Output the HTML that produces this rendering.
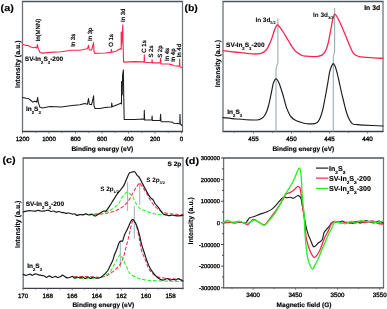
<!DOCTYPE html>
<html><head><meta charset="utf-8"><style>
html,body{margin:0;padding:0;background:#fff;overflow:hidden;}
svg{display:block;font-family:"Liberation Sans",sans-serif;text-rendering:geometricPrecision;will-change:transform;}
</style></head><body>
<svg width="387" height="309" viewBox="0 0 387 309">
<rect width="387" height="309" fill="#fff"/>
<line x1="21.9" y1="1.5" x2="183.1" y2="1.5" stroke="#4d555c" stroke-width="1.3"/>
<line x1="182.5" y1="1.5" x2="182.5" y2="131.5" stroke="#6a7278" stroke-width="1.25"/>
<line x1="21.9" y1="131.5" x2="183.1" y2="131.5" stroke="#3a4046" stroke-width="1.3"/>
<line x1="22.5" y1="1.5" x2="22.5" y2="131.5" stroke="#6a7278" stroke-width="1.3"/>
<line x1="22.5" y1="131.5" x2="22.5" y2="133.5" stroke="#555" stroke-width="0.8"/>
<line x1="35.75" y1="131.5" x2="35.75" y2="132.8" stroke="#555" stroke-width="0.8"/>
<line x1="49.0" y1="131.5" x2="49.0" y2="133.5" stroke="#555" stroke-width="0.8"/>
<line x1="62.25" y1="131.5" x2="62.25" y2="132.8" stroke="#555" stroke-width="0.8"/>
<line x1="75.5" y1="131.5" x2="75.5" y2="133.5" stroke="#555" stroke-width="0.8"/>
<line x1="88.75" y1="131.5" x2="88.75" y2="132.8" stroke="#555" stroke-width="0.8"/>
<line x1="102.0" y1="131.5" x2="102.0" y2="133.5" stroke="#555" stroke-width="0.8"/>
<line x1="115.25" y1="131.5" x2="115.25" y2="132.8" stroke="#555" stroke-width="0.8"/>
<line x1="128.5" y1="131.5" x2="128.5" y2="133.5" stroke="#555" stroke-width="0.8"/>
<line x1="141.75" y1="131.5" x2="141.75" y2="132.8" stroke="#555" stroke-width="0.8"/>
<line x1="155.0" y1="131.5" x2="155.0" y2="133.5" stroke="#555" stroke-width="0.8"/>
<line x1="168.25" y1="131.5" x2="168.25" y2="132.8" stroke="#555" stroke-width="0.8"/>
<line x1="181.5" y1="131.5" x2="181.5" y2="133.5" stroke="#555" stroke-width="0.8"/>
<text x="22.5" y="140.6" font-size="6.1" font-weight="normal" text-anchor="middle" stroke="#000" stroke-width="0.3">1200</text>
<text x="49.0" y="140.6" font-size="6.1" font-weight="normal" text-anchor="middle" stroke="#000" stroke-width="0.3">1000</text>
<text x="75.5" y="140.6" font-size="6.1" font-weight="normal" text-anchor="middle" stroke="#000" stroke-width="0.3">800</text>
<text x="102.0" y="140.6" font-size="6.1" font-weight="normal" text-anchor="middle" stroke="#000" stroke-width="0.3">600</text>
<text x="128.5" y="140.6" font-size="6.1" font-weight="normal" text-anchor="middle" stroke="#000" stroke-width="0.3">400</text>
<text x="155.0" y="140.6" font-size="6.1" font-weight="normal" text-anchor="middle" stroke="#000" stroke-width="0.3">200</text>
<text x="181.5" y="140.6" font-size="6.1" font-weight="normal" text-anchor="middle" stroke="#000" stroke-width="0.3">0</text>
<text x="102.3" y="150.6" font-size="6.55" font-weight="bold" text-anchor="middle" stroke="#000" stroke-width="0.15">Binding energy (eV)</text>
<text transform="translate(19.5,64.2) rotate(-90)" font-size="7.0" font-weight="bold" text-anchor="middle" stroke="#000" stroke-width="0.12">Intensity (a.u.)</text>
<text transform="translate(0.6,10.7) scale(1.15,1)" font-size="9.4" font-weight="bold" text-anchor="start" stroke="#000" stroke-width="0.15">(a)</text>
<line x1="222.4" y1="1.5" x2="383.6" y2="1.5" stroke="#4d555c" stroke-width="1.3"/>
<line x1="383" y1="1.5" x2="383" y2="131.5" stroke="#6a7278" stroke-width="1.25"/>
<line x1="222.4" y1="131.5" x2="383.6" y2="131.5" stroke="#3a4046" stroke-width="1.3"/>
<line x1="223" y1="1.5" x2="223" y2="131.5" stroke="#6a7278" stroke-width="1.3"/>
<line x1="234.365" y1="131.5" x2="234.365" y2="132.8" stroke="#555" stroke-width="0.8"/>
<line x1="253.4" y1="131.5" x2="253.4" y2="133.5" stroke="#555" stroke-width="0.8"/>
<line x1="272.435" y1="131.5" x2="272.435" y2="132.8" stroke="#555" stroke-width="0.8"/>
<line x1="291.47" y1="131.5" x2="291.47" y2="133.5" stroke="#555" stroke-width="0.8"/>
<line x1="310.505" y1="131.5" x2="310.505" y2="132.8" stroke="#555" stroke-width="0.8"/>
<line x1="329.54" y1="131.5" x2="329.54" y2="133.5" stroke="#555" stroke-width="0.8"/>
<line x1="348.575" y1="131.5" x2="348.575" y2="132.8" stroke="#555" stroke-width="0.8"/>
<line x1="367.61" y1="131.5" x2="367.61" y2="133.5" stroke="#555" stroke-width="0.8"/>
<text x="253.4" y="140.7" font-size="6.3" font-weight="normal" text-anchor="middle" stroke="#000" stroke-width="0.3">455</text>
<text x="291.47" y="140.7" font-size="6.3" font-weight="normal" text-anchor="middle" stroke="#000" stroke-width="0.3">450</text>
<text x="329.54" y="140.7" font-size="6.3" font-weight="normal" text-anchor="middle" stroke="#000" stroke-width="0.3">445</text>
<text x="367.61" y="140.7" font-size="6.3" font-weight="normal" text-anchor="middle" stroke="#000" stroke-width="0.3">440</text>
<text x="303.3" y="150.6" font-size="6.55" font-weight="bold" text-anchor="middle" stroke="#000" stroke-width="0.15">Binding energy (eV)</text>
<text transform="translate(220,63.6) rotate(-90)" font-size="7.0" font-weight="bold" text-anchor="middle" stroke="#000" stroke-width="0.12">Intensity (a.u.)</text>
<text transform="translate(184.4,10.7) scale(1.12,1)" font-size="9.4" font-weight="bold" text-anchor="start" stroke="#000" stroke-width="0.15">(b)</text>
<line x1="22.599999999999998" y1="158" x2="183.6" y2="158" stroke="#4d555c" stroke-width="1.3"/>
<line x1="183" y1="158" x2="183" y2="288.3" stroke="#6a7278" stroke-width="1.25"/>
<line x1="22.599999999999998" y1="288.3" x2="183.6" y2="288.3" stroke="#3a4046" stroke-width="1.3"/>
<line x1="23.2" y1="158" x2="23.2" y2="288.3" stroke="#6a7278" stroke-width="1.3"/>
<line x1="23.1" y1="288.3" x2="23.1" y2="290.3" stroke="#555" stroke-width="0.8"/>
<line x1="35.39" y1="288.3" x2="35.39" y2="289.6" stroke="#555" stroke-width="0.8"/>
<line x1="47.68" y1="288.3" x2="47.68" y2="290.3" stroke="#555" stroke-width="0.8"/>
<line x1="59.97" y1="288.3" x2="59.97" y2="289.6" stroke="#555" stroke-width="0.8"/>
<line x1="72.25999999999999" y1="288.3" x2="72.25999999999999" y2="290.3" stroke="#555" stroke-width="0.8"/>
<line x1="84.55" y1="288.3" x2="84.55" y2="289.6" stroke="#555" stroke-width="0.8"/>
<line x1="96.84" y1="288.3" x2="96.84" y2="290.3" stroke="#555" stroke-width="0.8"/>
<line x1="109.13" y1="288.3" x2="109.13" y2="289.6" stroke="#555" stroke-width="0.8"/>
<line x1="121.41999999999999" y1="288.3" x2="121.41999999999999" y2="290.3" stroke="#555" stroke-width="0.8"/>
<line x1="133.70999999999998" y1="288.3" x2="133.70999999999998" y2="289.6" stroke="#555" stroke-width="0.8"/>
<line x1="146.0" y1="288.3" x2="146.0" y2="290.3" stroke="#555" stroke-width="0.8"/>
<line x1="158.29" y1="288.3" x2="158.29" y2="289.6" stroke="#555" stroke-width="0.8"/>
<line x1="170.57999999999998" y1="288.3" x2="170.57999999999998" y2="290.3" stroke="#555" stroke-width="0.8"/>
<line x1="182.86999999999998" y1="288.3" x2="182.86999999999998" y2="289.6" stroke="#555" stroke-width="0.8"/>
<text x="23.1" y="297.5" font-size="6.2" font-weight="normal" text-anchor="middle" stroke="#000" stroke-width="0.3">170</text>
<text x="47.68" y="297.5" font-size="6.2" font-weight="normal" text-anchor="middle" stroke="#000" stroke-width="0.3">168</text>
<text x="72.25999999999999" y="297.5" font-size="6.2" font-weight="normal" text-anchor="middle" stroke="#000" stroke-width="0.3">166</text>
<text x="96.84" y="297.5" font-size="6.2" font-weight="normal" text-anchor="middle" stroke="#000" stroke-width="0.3">164</text>
<text x="121.41999999999999" y="297.5" font-size="6.2" font-weight="normal" text-anchor="middle" stroke="#000" stroke-width="0.3">162</text>
<text x="146.0" y="297.5" font-size="6.2" font-weight="normal" text-anchor="middle" stroke="#000" stroke-width="0.3">160</text>
<text x="170.57999999999998" y="297.5" font-size="6.2" font-weight="normal" text-anchor="middle" stroke="#000" stroke-width="0.3">158</text>
<text x="103.3" y="307" font-size="6.55" font-weight="bold" text-anchor="middle" stroke="#000" stroke-width="0.15">Binding energy (eV)</text>
<text transform="translate(20,224.3) rotate(-90)" font-size="7.0" font-weight="bold" text-anchor="middle" stroke="#000" stroke-width="0.12">Intensity (a.u.)</text>
<text transform="translate(2.4,163.3) scale(1.15,1)" font-size="9.4" font-weight="bold" text-anchor="start" stroke="#000" stroke-width="0.15">(c)</text>
<line x1="223.0" y1="158" x2="384.1" y2="158" stroke="#4d555c" stroke-width="1.3"/>
<line x1="383.5" y1="158" x2="383.5" y2="287.8" stroke="#6a7278" stroke-width="1.25"/>
<line x1="223.0" y1="287.8" x2="384.1" y2="287.8" stroke="#3a4046" stroke-width="1.3"/>
<line x1="223.6" y1="158" x2="223.6" y2="287.8" stroke="#6a7278" stroke-width="1.3"/>
<line x1="232.0" y1="287.8" x2="232.0" y2="289.1" stroke="#555" stroke-width="0.8"/>
<line x1="253.1" y1="287.8" x2="253.1" y2="289.8" stroke="#555" stroke-width="0.8"/>
<line x1="274.2" y1="287.8" x2="274.2" y2="289.1" stroke="#555" stroke-width="0.8"/>
<line x1="295.3" y1="287.8" x2="295.3" y2="289.8" stroke="#555" stroke-width="0.8"/>
<line x1="316.4" y1="287.8" x2="316.4" y2="289.1" stroke="#555" stroke-width="0.8"/>
<line x1="337.5" y1="287.8" x2="337.5" y2="289.8" stroke="#555" stroke-width="0.8"/>
<line x1="358.6" y1="287.8" x2="358.6" y2="289.1" stroke="#555" stroke-width="0.8"/>
<line x1="379.70000000000005" y1="287.8" x2="379.70000000000005" y2="289.8" stroke="#555" stroke-width="0.8"/>
<text x="253.1" y="297.3" font-size="6.2" font-weight="normal" text-anchor="middle" stroke="#000" stroke-width="0.3">3400</text>
<text x="295.3" y="297.3" font-size="6.2" font-weight="normal" text-anchor="middle" stroke="#000" stroke-width="0.3">3450</text>
<text x="337.5" y="297.3" font-size="6.2" font-weight="normal" text-anchor="middle" stroke="#000" stroke-width="0.3">3500</text>
<text x="379.7" y="297.3" font-size="6.2" font-weight="normal" text-anchor="middle" stroke="#000" stroke-width="0.3">3550</text>
<text x="304" y="307" font-size="6.55" font-weight="bold" text-anchor="middle" stroke="#000" stroke-width="0.15">Magnetic field (G)</text>
<line x1="223.6" y1="158.0" x2="221" y2="158.0" stroke="#333" stroke-width="0.9"/>
<line x1="223.6" y1="168.815" x2="222" y2="168.815" stroke="#333" stroke-width="0.9"/>
<line x1="223.6" y1="179.63" x2="221" y2="179.63" stroke="#333" stroke-width="0.9"/>
<line x1="223.6" y1="190.445" x2="222" y2="190.445" stroke="#333" stroke-width="0.9"/>
<line x1="223.6" y1="201.26" x2="221" y2="201.26" stroke="#333" stroke-width="0.9"/>
<line x1="223.6" y1="212.075" x2="222" y2="212.075" stroke="#333" stroke-width="0.9"/>
<line x1="223.6" y1="222.89" x2="221" y2="222.89" stroke="#333" stroke-width="0.9"/>
<line x1="223.6" y1="233.70499999999998" x2="222" y2="233.70499999999998" stroke="#333" stroke-width="0.9"/>
<line x1="223.6" y1="244.51999999999998" x2="221" y2="244.51999999999998" stroke="#333" stroke-width="0.9"/>
<line x1="223.6" y1="255.33499999999998" x2="222" y2="255.33499999999998" stroke="#333" stroke-width="0.9"/>
<line x1="223.6" y1="266.15" x2="221" y2="266.15" stroke="#333" stroke-width="0.9"/>
<line x1="223.6" y1="276.965" x2="222" y2="276.965" stroke="#333" stroke-width="0.9"/>
<line x1="223.6" y1="287.78" x2="221" y2="287.78" stroke="#333" stroke-width="0.9"/>
<text x="219.8" y="160.1" font-size="5.7" font-weight="normal" text-anchor="end" stroke="#000" stroke-width="0.3">300000</text>
<text x="219.8" y="181.73" font-size="5.7" font-weight="normal" text-anchor="end" stroke="#000" stroke-width="0.3">200000</text>
<text x="219.8" y="203.35999999999999" font-size="5.7" font-weight="normal" text-anchor="end" stroke="#000" stroke-width="0.3">100000</text>
<text x="219.8" y="224.98999999999998" font-size="5.7" font-weight="normal" text-anchor="end" stroke="#000" stroke-width="0.3">0</text>
<text x="219.8" y="246.61999999999998" font-size="5.7" font-weight="normal" text-anchor="end" stroke="#000" stroke-width="0.3">-100000</text>
<text x="219.8" y="268.25" font-size="5.7" font-weight="normal" text-anchor="end" stroke="#000" stroke-width="0.3">-200000</text>
<text x="219.8" y="289.88" font-size="5.7" font-weight="normal" text-anchor="end" stroke="#000" stroke-width="0.3">-300000</text>
<text transform="translate(193,220.8) rotate(-90)" font-size="7.0" font-weight="bold" text-anchor="middle" stroke="#000" stroke-width="0.12">Intensity (a.u.)</text>
<text transform="translate(185.2,164.0) scale(1.15,1)" font-size="9.4" font-weight="bold" text-anchor="start" stroke="#000" stroke-width="0.15">(d)</text>
<polyline points="277.9,18.8 277.9,62.6 276.4,67.4 276.0,70.0 276.0,131.0" fill="none" stroke="#9db0b9" stroke-width="1.15" stroke-linejoin="round" stroke-linecap="round"/>
<polyline points="334.6,8.3 334.6,52.2 333.3,56.6 333.3,131.0" fill="none" stroke="#9db0b9" stroke-width="1.15" stroke-linejoin="round" stroke-linecap="round"/>
<polyline points="22.5,44.2 26.2,45.4 27.8,45.4 30.9,46.9 33.2,47.7 35.5,47.3 36.7,48.1 37.4,44.6 38.2,48.1 39.8,52.3 41.7,53.1 50.0,52.4 61.0,51.8 71.7,50.3 80.0,50.3 84.7,49.2 87.4,48.8 88.5,45.3 89.3,50.0 91.6,50.0 93.6,42.6 94.0,51.5 94.7,53.4 105.0,53.0 111.0,52.4 111.4,49.2 111.9,52.2 116.0,51.2 119.6,49.1 120.4,48.5 121.2,49.5 121.2,32.1 121.6,45.0 122.8,24.9 123.1,45.0 123.6,62.1 135.0,61.6 142.8,61.9 144.1,62.1 144.3,54.9 144.6,62.3 151.8,62.7 152.1,59.7 152.4,62.9 160.2,62.9 160.6,58.4 161.0,64.0 168.6,64.0 172.5,64.9 173.8,65.8 178.9,66.1 179.5,66.3 179.6,59.0 179.9,66.8 182.0,67.8" fill="none" stroke="#ff2451" stroke-width="1.1" stroke-linejoin="round" stroke-linecap="round"/>
<polyline points="22.5,97.4 26.2,98.2 28.5,98.6 30.9,100.5 32.8,102.1 34.7,101.3 36.7,102.1 37.7,97.4 38.2,102.1 39.8,107.1 42.5,107.9 50.0,106.6 61.3,106.9 72.0,105.5 80.0,104.7 84.7,103.5 87.4,104.3 88.5,98.5 89.3,104.3 91.6,104.7 93.6,95.8 94.0,105.8 95.1,108.5 100.0,108.5 105.0,107.5 111.4,107.0 111.8,102.9 112.2,106.8 119.6,103.8 120.6,103.2 121.5,104.0 121.5,81.5 122.2,95.0 122.6,75.0 123.4,69.9 123.7,95.0 124.2,119.4 135.0,119.4 142.8,119.1 144.1,119.5 144.3,110.3 144.6,120.0 151.8,120.0 152.1,116.1 152.4,120.5 160.2,120.4 160.6,114.2 161.0,121.5 162.1,121.7 168.6,121.7 172.5,122.2 173.8,123.3 177.6,123.5 179.8,123.7 180.0,114.2 180.3,124.0 182.0,125.5" fill="none" stroke="#1c1c1c" stroke-width="1.05" stroke-linejoin="round" stroke-linecap="round"/>
<path d="M223.00,50.70 C224.90,50.92 230.43,51.55 234.40,52.00 C238.37,52.45 243.18,53.07 246.80,53.40 C250.42,53.73 253.90,53.97 256.10,54.00 C258.30,54.03 258.80,53.87 260.00,53.60 C261.20,53.33 262.38,52.87 263.30,52.40 C264.22,51.93 264.80,51.50 265.50,50.80 C266.20,50.10 266.83,49.33 267.50,48.20 C268.17,47.07 268.82,45.55 269.50,44.00 C270.18,42.45 270.98,40.57 271.60,38.90 C272.22,37.23 272.68,35.55 273.20,34.00 C273.72,32.45 274.23,30.85 274.70,29.60 C275.17,28.35 275.58,27.28 276.00,26.50 C276.42,25.72 276.77,25.03 277.20,24.90 C277.63,24.77 277.98,25.08 278.60,25.70 C279.22,26.32 280.08,27.47 280.90,28.60 C281.72,29.73 282.63,31.12 283.50,32.50 C284.37,33.88 285.15,35.32 286.10,36.90 C287.05,38.48 288.17,40.28 289.20,42.00 C290.23,43.72 291.27,45.70 292.30,47.20 C293.33,48.70 294.37,49.97 295.40,51.00 C296.43,52.03 297.40,52.65 298.50,53.40 C299.60,54.15 300.75,55.03 302.00,55.50 C303.25,55.97 304.13,56.02 306.00,56.20 C307.87,56.38 311.20,56.58 313.20,56.60 C315.20,56.62 316.53,56.55 318.00,56.30 C319.47,56.05 320.93,55.73 322.00,55.10 C323.07,54.47 323.67,53.53 324.40,52.50 C325.13,51.47 325.77,50.48 326.40,48.90 C327.03,47.32 327.65,45.20 328.20,43.00 C328.75,40.80 329.20,38.28 329.70,35.70 C330.20,33.12 330.73,30.05 331.20,27.50 C331.67,24.95 332.10,22.23 332.50,20.40 C332.90,18.57 333.23,17.53 333.60,16.50 C333.97,15.47 334.23,14.32 334.70,14.20 C335.17,14.08 335.78,14.95 336.40,15.80 C337.02,16.65 337.60,17.73 338.40,19.30 C339.20,20.87 340.28,23.18 341.20,25.20 C342.12,27.22 343.08,29.47 343.90,31.40 C344.72,33.33 345.37,34.98 346.10,36.80 C346.83,38.62 347.57,40.50 348.30,42.30 C349.03,44.10 349.77,45.95 350.50,47.60 C351.23,49.25 351.87,50.97 352.70,52.20 C353.53,53.43 354.40,54.27 355.50,55.00 C356.60,55.73 356.83,56.15 359.30,56.60 C361.77,57.05 366.35,57.40 370.30,57.70 C374.25,58.00 380.88,58.28 383.00,58.40" fill="none" stroke="#ff2451" stroke-width="1.3" stroke-linejoin="round" stroke-linecap="round"/>
<path d="M223.00,117.60 C225.27,117.83 231.50,118.60 236.60,119.00 C241.70,119.40 249.87,119.90 253.60,120.00 C257.33,120.10 257.60,119.88 259.00,119.60 C260.40,119.32 261.07,118.98 262.00,118.30 C262.93,117.62 263.78,116.72 264.60,115.50 C265.42,114.28 266.20,112.83 266.90,111.00 C267.60,109.17 268.18,106.93 268.80,104.50 C269.42,102.07 270.07,98.90 270.60,96.40 C271.13,93.90 271.60,91.52 272.00,89.50 C272.40,87.48 272.58,85.80 273.00,84.30 C273.42,82.80 274.02,81.40 274.50,80.50 C274.98,79.60 275.42,78.98 275.90,78.90 C276.38,78.82 276.88,79.32 277.40,80.00 C277.92,80.68 278.43,81.67 279.00,83.00 C279.57,84.33 280.18,86.17 280.80,88.00 C281.42,89.83 282.08,91.92 282.70,94.00 C283.32,96.08 283.88,98.27 284.50,100.50 C285.12,102.73 285.68,105.32 286.40,107.40 C287.12,109.48 288.00,111.40 288.80,113.00 C289.60,114.60 290.17,115.83 291.20,117.00 C292.23,118.17 293.58,119.18 295.00,120.00 C296.42,120.82 297.70,121.28 299.70,121.90 C301.70,122.52 304.52,123.42 307.00,123.70 C309.48,123.98 312.90,123.80 314.60,123.60 C316.30,123.40 316.40,123.18 317.20,122.50 C318.00,121.82 318.73,120.75 319.40,119.50 C320.07,118.25 320.60,116.82 321.20,115.00 C321.80,113.18 322.40,111.18 323.00,108.60 C323.60,106.02 324.18,102.75 324.80,99.50 C325.42,96.25 326.13,92.27 326.70,89.10 C327.27,85.93 327.72,83.33 328.20,80.50 C328.68,77.67 329.07,74.43 329.60,72.10 C330.13,69.77 330.78,67.92 331.40,66.50 C332.02,65.08 332.68,63.65 333.30,63.60 C333.92,63.55 334.50,64.78 335.10,66.20 C335.70,67.62 336.25,69.63 336.90,72.10 C337.55,74.57 338.27,77.75 339.00,81.00 C339.73,84.25 340.52,88.18 341.30,91.60 C342.08,95.02 342.90,98.27 343.70,101.50 C344.50,104.73 345.25,108.17 346.10,111.00 C346.95,113.83 347.78,116.40 348.80,118.50 C349.82,120.60 350.83,122.58 352.20,123.60 C353.57,124.62 355.18,124.35 357.00,124.60 C358.82,124.85 358.77,124.87 363.10,125.10 C367.43,125.33 379.68,125.85 383.00,126.00" fill="none" stroke="#1c1c1c" stroke-width="1.15" stroke-linejoin="round" stroke-linecap="round"/>
<polyline points="127.6,182.9 127.6,210.6" fill="none" stroke="#9db0b9" stroke-width="1.0" stroke-linejoin="round" stroke-linecap="round"/>
<polyline points="139.7,183.6 139.7,204.6" fill="none" stroke="#9db0b9" stroke-width="1.0" stroke-linejoin="round" stroke-linecap="round"/>
<polyline points="134.3,206.5 134.3,238.2" fill="none" stroke="#9db0b9" stroke-width="1.0" stroke-linejoin="round" stroke-linecap="round"/>
<polyline points="120.3,241.8 120.3,267.1" fill="none" stroke="#9db0b9" stroke-width="1.0" stroke-linejoin="round" stroke-linecap="round"/>
<path d="M78.00,214.80 C80.00,214.73 86.33,214.53 90.00,214.40 C93.67,214.27 97.30,214.20 100.00,214.00 C102.70,213.80 104.13,213.58 106.20,213.20 C108.27,212.82 110.33,212.35 112.40,211.70 C114.47,211.05 116.67,210.27 118.60,209.30 C120.53,208.33 122.22,207.55 124.00,205.90 C125.78,204.25 127.83,201.52 129.30,199.40 C130.77,197.28 131.70,195.13 132.80,193.20 C133.90,191.27 134.87,189.42 135.90,187.80 C136.93,186.18 138.33,184.27 139.00,183.50 C139.67,182.73 139.25,182.50 139.90,183.20 C140.55,183.90 141.97,186.32 142.90,187.70 C143.83,189.08 144.68,190.22 145.50,191.50 C146.32,192.78 146.90,193.83 147.80,195.40 C148.70,196.97 149.60,198.97 150.90,200.90 C152.20,202.83 153.88,205.27 155.60,207.00 C157.32,208.73 159.37,210.27 161.20,211.30 C163.03,212.33 164.67,212.75 166.60,213.20 C168.53,213.65 170.85,213.80 172.80,214.00 C174.75,214.20 176.60,214.27 178.30,214.40 C180.00,214.53 182.22,214.73 183.00,214.80" fill="none" stroke="#ff2451" stroke-width="1.05" stroke-linejoin="round" stroke-linecap="round" stroke-dasharray="2.9 2.6"/>
<path d="M78.00,214.60 C80.00,214.53 86.33,214.37 90.00,214.20 C93.67,214.03 97.30,214.02 100.00,213.60 C102.70,213.18 104.13,212.47 106.20,211.70 C108.27,210.93 110.33,210.37 112.40,209.00 C114.47,207.63 117.13,205.23 118.60,203.50 C120.07,201.77 120.22,200.15 121.20,198.60 C122.18,197.05 123.45,195.30 124.50,194.20 C125.55,193.10 126.50,191.98 127.50,192.00 C128.50,192.02 129.62,193.52 130.50,194.30 C131.38,195.08 131.98,195.35 132.80,196.70 C133.62,198.05 134.18,200.42 135.40,202.40 C136.62,204.38 138.30,207.15 140.10,208.60 C141.90,210.05 143.83,210.23 146.20,211.10 C148.57,211.97 151.60,213.18 154.30,213.80 C157.00,214.42 157.62,214.43 162.40,214.80 C167.18,215.17 179.57,215.80 183.00,216.00" fill="none" stroke="#26f026" stroke-width="1.05" stroke-linejoin="round" stroke-linecap="round" stroke-dasharray="2.9 2.6"/>
<path d="M74.00,276.80 C75.83,276.77 81.50,276.57 85.00,276.60 C88.50,276.63 92.50,276.88 95.00,277.00 C97.50,277.12 98.17,277.47 100.00,277.30 C101.83,277.13 104.38,276.57 106.00,276.00 C107.62,275.43 108.12,274.97 109.70,273.90 C111.28,272.83 113.68,271.32 115.50,269.60 C117.32,267.88 119.37,265.43 120.60,263.60 C121.83,261.77 122.18,260.57 122.90,258.60 C123.62,256.63 124.30,254.00 124.90,251.80 C125.50,249.60 125.98,247.43 126.50,245.40 C127.02,243.37 127.52,241.55 128.00,239.60 C128.48,237.65 128.92,235.82 129.40,233.70 C129.88,231.58 130.33,229.05 130.90,226.90 C131.47,224.75 132.20,221.70 132.80,220.80 C133.40,219.90 133.88,220.72 134.50,221.50 C135.12,222.28 135.73,222.82 136.50,225.50 C137.27,228.18 138.28,233.53 139.10,237.60 C139.92,241.67 140.38,246.23 141.40,249.90 C142.42,253.57 143.92,256.37 145.20,259.60 C146.48,262.83 147.38,266.58 149.10,269.30 C150.82,272.02 153.30,274.48 155.50,275.90 C157.70,277.32 160.18,277.32 162.30,277.80 C164.42,278.28 166.08,278.62 168.20,278.80 C170.32,278.98 172.53,278.70 175.00,278.90 C177.47,279.10 181.67,279.82 183.00,280.00" fill="none" stroke="#ff2451" stroke-width="1.05" stroke-linejoin="round" stroke-linecap="round" stroke-dasharray="2.9 2.6"/>
<path d="M74.00,278.20 C75.83,278.23 81.50,278.37 85.00,278.40 C88.50,278.43 92.50,278.53 95.00,278.40 C97.50,278.27 98.52,278.02 100.00,277.60 C101.48,277.18 102.28,276.75 103.90,275.90 C105.52,275.05 108.08,274.20 109.70,272.50 C111.32,270.80 112.30,267.97 113.60,265.70 C114.90,263.43 116.38,260.75 117.50,258.90 C118.62,257.05 119.28,254.32 120.30,254.60 C121.32,254.88 122.52,258.48 123.60,260.60 C124.68,262.72 125.88,265.32 126.80,267.30 C127.72,269.28 128.45,271.37 129.10,272.50 C129.75,273.63 129.72,273.38 130.70,274.10 C131.68,274.82 133.45,276.02 135.00,276.80 C136.55,277.58 137.55,278.20 140.00,278.80 C142.45,279.40 144.85,280.00 149.70,280.40 C154.55,280.80 163.55,281.02 169.10,281.20 C174.65,281.38 180.68,281.45 183.00,281.50" fill="none" stroke="#26f026" stroke-width="1.05" stroke-linejoin="round" stroke-linecap="round" stroke-dasharray="2.9 2.6"/>
<path d="M23.20,212.00 C23.50,211.90 23.87,211.62 25.00,211.40 C26.13,211.18 28.33,210.73 30.00,210.70 C31.67,210.67 33.67,211.27 35.00,211.20 C36.33,211.13 37.00,210.33 38.00,210.30 C39.00,210.27 39.83,210.90 41.00,211.00 C42.17,211.10 43.83,211.03 45.00,210.90 C46.17,210.77 47.00,210.10 48.00,210.20 C49.00,210.30 50.00,211.37 51.00,211.50 C52.00,211.63 53.17,210.88 54.00,211.00 C54.83,211.12 55.17,212.12 56.00,212.20 C56.83,212.28 58.00,211.43 59.00,211.50 C60.00,211.57 61.33,212.45 62.00,212.60 C62.67,212.75 62.33,212.28 63.00,212.40 C63.67,212.52 65.00,213.20 66.00,213.30 C67.00,213.40 68.00,212.88 69.00,213.00 C70.00,213.12 71.00,213.83 72.00,214.00 C73.00,214.17 74.17,213.75 75.00,214.00 C75.83,214.25 76.17,215.42 77.00,215.50 C77.83,215.58 79.00,214.62 80.00,214.50 C81.00,214.38 82.00,214.92 83.00,214.80 C84.00,214.68 85.00,213.77 86.00,213.80 C87.00,213.83 88.00,214.92 89.00,215.00 C90.00,215.08 91.00,214.13 92.00,214.30 C93.00,214.47 94.17,215.88 95.00,216.00 C95.83,216.12 96.17,215.47 97.00,215.00 C97.83,214.53 99.02,213.83 100.00,213.20 C100.98,212.57 101.85,211.62 102.90,211.20 C103.95,210.78 105.17,211.58 106.30,210.70 C107.43,209.82 108.48,207.75 109.70,205.90 C110.92,204.05 112.30,201.63 113.60,199.60 C114.90,197.57 116.27,195.42 117.50,193.70 C118.73,191.98 119.93,190.68 121.00,189.30 C122.07,187.92 122.93,187.18 123.90,185.40 C124.87,183.62 125.92,180.62 126.80,178.60 C127.68,176.58 128.58,174.32 129.20,173.30 C129.82,172.28 129.60,172.75 130.50,172.50 C131.40,172.25 133.52,171.35 134.60,171.80 C135.68,172.25 136.20,174.23 137.00,175.20 C137.80,176.17 138.52,176.23 139.40,177.60 C140.28,178.97 141.33,181.53 142.30,183.40 C143.27,185.27 144.18,186.93 145.20,188.80 C146.22,190.67 147.52,193.13 148.40,194.60 C149.28,196.07 149.68,196.68 150.50,197.60 C151.32,198.52 152.55,199.12 153.30,200.10 C154.05,201.08 154.07,202.15 155.00,203.50 C155.93,204.85 157.60,206.52 158.90,208.20 C160.20,209.88 161.70,212.53 162.80,213.60 C163.90,214.67 164.50,214.27 165.50,214.60 C166.50,214.93 167.68,215.53 168.80,215.60 C169.92,215.67 171.08,215.00 172.20,215.00 C173.32,215.00 174.37,215.47 175.50,215.60 C176.63,215.73 177.75,215.87 179.00,215.80 C180.25,215.73 182.33,215.30 183.00,215.20" fill="none" stroke="#1c1c1c" stroke-width="1.2" stroke-linejoin="round" stroke-linecap="round"/>
<path d="M23.20,274.40 C23.67,274.55 24.87,275.35 26.00,275.30 C27.13,275.25 28.95,274.10 30.00,274.10 C31.05,274.10 31.40,275.35 32.30,275.30 C33.20,275.25 34.45,273.92 35.40,273.80 C36.35,273.68 37.23,274.37 38.00,274.60 C38.77,274.83 39.05,275.00 40.00,275.20 C40.95,275.40 42.60,275.45 43.70,275.80 C44.80,276.15 45.68,277.30 46.60,277.30 C47.52,277.30 48.20,275.77 49.20,275.80 C50.20,275.83 51.55,277.42 52.60,277.50 C53.65,277.58 54.60,276.28 55.50,276.30 C56.40,276.32 57.08,277.60 58.00,277.60 C58.92,277.60 60.27,276.70 61.00,276.30 C61.73,275.90 61.70,275.10 62.40,275.20 C63.10,275.30 64.30,276.45 65.20,276.90 C66.10,277.35 66.95,277.85 67.80,277.90 C68.65,277.95 69.53,277.45 70.30,277.20 C71.07,276.95 71.70,276.27 72.40,276.40 C73.10,276.53 73.73,277.88 74.50,278.00 C75.27,278.12 76.08,277.12 77.00,277.10 C77.92,277.08 79.00,277.92 80.00,277.90 C81.00,277.88 82.17,276.87 83.00,277.00 C83.83,277.13 84.17,278.70 85.00,278.70 C85.83,278.70 87.08,277.03 88.00,277.00 C88.92,276.97 89.67,278.50 90.50,278.50 C91.33,278.50 92.08,277.07 93.00,277.00 C93.92,276.93 94.83,277.97 96.00,278.10 C97.17,278.23 98.68,278.33 100.00,277.80 C101.32,277.27 102.60,276.12 103.90,274.90 C105.20,273.68 106.83,271.87 107.80,270.50 C108.77,269.13 108.90,268.32 109.70,266.70 C110.50,265.08 111.80,262.78 112.60,260.80 C113.40,258.82 113.80,256.72 114.50,254.80 C115.20,252.88 116.02,251.35 116.80,249.30 C117.58,247.25 118.47,243.88 119.20,242.50 C119.93,241.12 120.63,241.25 121.20,241.00 C121.77,240.75 122.03,242.05 122.60,241.00 C123.17,239.95 123.87,236.55 124.60,234.70 C125.33,232.85 126.28,231.40 127.00,229.90 C127.72,228.40 128.10,227.37 128.90,225.70 C129.70,224.03 131.00,220.80 131.80,219.90 C132.60,219.00 132.92,219.40 133.70,220.30 C134.48,221.20 135.52,222.78 136.50,225.30 C137.48,227.82 138.77,232.27 139.60,235.40 C140.43,238.53 140.72,241.20 141.50,244.10 C142.28,247.00 143.35,249.90 144.30,252.80 C145.25,255.70 146.32,259.08 147.20,261.50 C148.08,263.92 148.53,265.32 149.60,267.30 C150.67,269.28 152.13,271.57 153.60,273.40 C155.07,275.23 156.92,277.18 158.40,278.30 C159.88,279.42 161.40,279.92 162.50,280.10 C163.60,280.28 164.17,279.67 165.00,279.40 C165.83,279.13 166.67,278.38 167.50,278.50 C168.33,278.62 169.08,279.95 170.00,280.10 C170.92,280.25 172.00,279.43 173.00,279.40 C174.00,279.37 175.08,280.05 176.00,279.90 C176.92,279.75 177.67,278.47 178.50,278.50 C179.33,278.53 180.25,279.68 181.00,280.10 C181.75,280.52 182.67,280.85 183.00,281.00" fill="none" stroke="#1c1c1c" stroke-width="1.2" stroke-linejoin="round" stroke-linecap="round"/>
<path d="M223.60,222.40 C225.27,222.40 230.97,222.48 233.60,222.40 C236.23,222.32 237.45,221.80 239.40,221.90 C241.35,222.00 243.95,223.23 245.30,223.00 C246.65,222.77 246.73,221.37 247.50,220.50 C248.27,219.63 248.53,218.55 249.90,217.80 C251.27,217.05 254.02,216.62 255.70,216.00 C257.38,215.38 258.32,214.72 260.00,214.10 C261.68,213.48 263.87,213.08 265.80,212.30 C267.73,211.52 269.67,210.85 271.60,209.40 C273.53,207.95 275.45,205.63 277.40,203.60 C279.35,201.57 281.75,198.17 283.30,197.20 C284.85,196.23 285.52,197.78 286.70,197.80 C287.88,197.82 289.27,197.23 290.40,197.30 C291.53,197.37 292.33,198.45 293.50,198.20 C294.67,197.95 296.37,196.10 297.40,195.80 C298.43,195.50 299.05,195.77 299.70,196.40 C300.35,197.03 300.88,198.17 301.30,199.60 C301.72,201.03 301.85,203.10 302.20,205.00 C302.55,206.90 302.87,207.92 303.40,211.00 C303.93,214.08 304.63,219.70 305.40,223.50 C306.17,227.30 307.15,231.05 308.00,233.80 C308.85,236.55 309.53,237.83 310.50,240.00 C311.47,242.17 312.50,246.30 313.80,246.80 C315.10,247.30 316.90,244.18 318.30,243.00 C319.70,241.82 321.23,241.45 322.20,239.70 C323.17,237.95 323.35,234.23 324.10,232.50 C324.85,230.77 325.83,230.37 326.70,229.30 C327.57,228.23 328.50,227.15 329.30,226.10 C330.10,225.05 330.72,223.72 331.50,223.00 C332.28,222.28 333.08,221.97 334.00,221.80 C334.92,221.63 335.98,222.00 337.00,222.00 C338.02,222.00 339.20,221.97 340.10,221.80 C341.00,221.63 341.50,220.88 342.40,221.00 C343.30,221.12 344.40,222.20 345.50,222.50 C346.60,222.80 347.70,222.67 349.00,222.80 C350.30,222.93 351.97,223.38 353.30,223.30 C354.63,223.22 355.68,222.37 357.00,222.30 C358.32,222.23 359.72,223.18 361.20,222.90 C362.68,222.62 364.52,220.78 365.90,220.60 C367.28,220.42 368.22,221.42 369.50,221.80 C370.78,222.18 372.02,223.03 373.60,222.90 C375.18,222.77 377.38,220.93 379.00,221.00 C380.62,221.07 382.58,222.92 383.30,223.30" fill="none" stroke="#1c1c1c" stroke-width="1.15" stroke-linejoin="round" stroke-linecap="round"/>
<path d="M223.60,223.00 C224.50,222.90 227.13,222.40 229.00,222.40 C230.87,222.40 232.87,223.08 234.80,223.00 C236.73,222.92 239.07,221.90 240.60,221.90 C242.13,221.90 242.83,222.52 244.00,223.00 C245.17,223.48 246.52,224.97 247.60,224.80 C248.68,224.63 249.53,222.88 250.50,222.00 C251.47,221.12 252.40,219.75 253.40,219.50 C254.40,219.25 255.53,220.02 256.50,220.50 C257.47,220.98 258.03,221.72 259.20,222.40 C260.37,223.08 262.40,224.33 263.50,224.60 C264.60,224.87 264.45,225.37 265.80,224.00 C267.15,222.63 269.67,219.02 271.60,216.40 C273.53,213.78 275.45,211.20 277.40,208.30 C279.35,205.40 281.93,201.33 283.30,199.00 C284.67,196.67 284.48,195.37 285.60,194.30 C286.72,193.23 288.68,193.27 290.00,192.60 C291.32,191.93 292.58,190.98 293.50,190.30 C294.42,189.62 294.83,189.13 295.50,188.50 C296.17,187.87 296.88,186.75 297.50,186.50 C298.12,186.25 298.73,186.58 299.20,187.00 C299.67,187.42 299.95,187.50 300.30,189.00 C300.65,190.50 300.88,192.83 301.30,196.00 C301.72,199.17 302.23,203.85 302.80,208.00 C303.37,212.15 304.17,216.15 304.70,220.90 C305.23,225.65 305.45,232.48 306.00,236.50 C306.55,240.52 307.25,242.42 308.00,245.00 C308.75,247.58 309.43,249.95 310.50,252.00 C311.57,254.05 312.88,257.52 314.40,257.30 C315.92,257.08 317.92,253.92 319.60,250.70 C321.28,247.48 322.98,241.45 324.50,238.00 C326.02,234.55 327.73,232.07 328.70,230.00 C329.67,227.93 329.57,226.97 330.30,225.60 C331.03,224.23 332.37,222.50 333.10,221.80 C333.83,221.10 333.92,221.35 334.70,221.40 C335.48,221.45 336.52,221.78 337.80,222.10 C339.08,222.42 340.87,223.30 342.40,223.30 C343.93,223.30 345.70,222.10 347.00,222.10 C348.30,222.10 349.15,223.35 350.20,223.30 C351.25,223.25 351.72,222.12 353.30,221.80 C354.88,221.48 357.87,221.28 359.70,221.40 C361.53,221.52 362.92,222.40 364.30,222.50 C365.68,222.60 366.72,222.25 368.00,222.00 C369.28,221.75 370.42,220.78 372.00,221.00 C373.58,221.22 375.62,222.78 377.50,223.30 C379.38,223.82 382.33,223.97 383.30,224.10" fill="none" stroke="#ff2451" stroke-width="1.3" stroke-linejoin="round" stroke-linecap="round"/>
<path d="M223.60,222.40 C224.30,222.05 226.13,220.20 227.80,220.30 C229.47,220.40 231.67,222.83 233.60,223.00 C235.53,223.17 237.45,221.23 239.40,221.30 C241.35,221.37 243.55,223.22 245.30,223.40 C247.05,223.58 248.35,222.95 249.90,222.40 C251.45,221.85 252.92,220.03 254.60,220.10 C256.28,220.17 258.32,221.97 260.00,222.80 C261.68,223.63 262.77,225.97 264.70,225.10 C266.63,224.23 269.48,220.22 271.60,217.60 C273.72,214.98 275.45,212.70 277.40,209.40 C279.35,206.10 281.75,200.70 283.30,197.80 C284.85,194.90 285.10,194.63 286.70,192.00 C288.30,189.37 291.43,184.67 292.90,182.00 C294.37,179.33 294.73,177.83 295.50,176.00 C296.27,174.17 296.85,172.33 297.50,171.00 C298.15,169.67 298.90,168.00 299.40,168.00 C299.90,168.00 300.17,169.10 300.50,171.00 C300.83,172.90 301.15,175.90 301.40,179.40 C301.65,182.90 301.70,187.57 302.00,192.00 C302.30,196.43 302.85,202.27 303.20,206.00 C303.55,209.73 303.78,209.57 304.10,214.40 C304.42,219.23 304.57,228.08 305.10,235.00 C305.63,241.92 306.57,251.07 307.30,255.90 C308.03,260.73 308.63,261.82 309.50,264.00 C310.37,266.18 311.50,269.00 312.50,269.00 C313.50,269.00 314.53,265.75 315.50,264.00 C316.47,262.25 317.30,260.75 318.30,258.50 C319.30,256.25 320.42,253.08 321.50,250.50 C322.58,247.92 323.80,245.33 324.80,243.00 C325.80,240.67 326.63,238.45 327.50,236.50 C328.37,234.55 329.32,232.60 330.00,231.30 C330.68,230.00 330.82,230.28 331.60,228.70 C332.38,227.12 333.67,222.83 334.70,221.80 C335.73,220.77 336.67,222.30 337.80,222.50 C338.93,222.70 340.22,222.80 341.50,223.00 C342.78,223.20 343.93,223.97 345.50,223.70 C347.07,223.43 349.35,221.47 350.90,221.40 C352.45,221.33 353.62,223.17 354.80,223.30 C355.98,223.43 356.93,222.65 358.00,222.20 C359.07,221.75 359.87,220.72 361.20,220.60 C362.53,220.48 364.45,221.30 366.00,221.50 C367.55,221.70 368.45,221.63 370.50,221.80 C372.55,221.97 376.17,222.63 378.30,222.50 C380.43,222.37 382.47,221.25 383.30,221.00" fill="none" stroke="#26f026" stroke-width="1.35" stroke-linejoin="round" stroke-linecap="round"/>
<text transform="translate(40.0,41.5) rotate(-90)" font-size="6.0" font-weight="normal" text-anchor="start" stroke="#000" stroke-width="0.22">In(MNN)</text>
<text transform="translate(74.5,46.8) rotate(-90)" font-size="6.0" font-weight="normal" text-anchor="start" stroke="#000" stroke-width="0.22">In 3s</text>
<text transform="translate(92.3,40.9) rotate(-90)" font-size="6.0" font-weight="normal" text-anchor="start" stroke="#000" stroke-width="0.22">In 3p</text>
<text transform="translate(112.5,46.8) rotate(-90)" font-size="6.0" font-weight="normal" text-anchor="start" stroke="#000" stroke-width="0.22">O 1s</text>
<text transform="translate(125,21.9) rotate(-90)" font-size="6.0" font-weight="normal" text-anchor="start" stroke="#000" stroke-width="0.22">In 3d</text>
<text transform="translate(146.1,52.7) rotate(-90)" font-size="6.0" font-weight="normal" text-anchor="start" stroke="#000" stroke-width="0.22">C 1s</text>
<text transform="translate(152.7,57.6) rotate(-90)" font-size="6.0" font-weight="normal" text-anchor="start" stroke="#000" stroke-width="0.22">S 2s</text>
<text transform="translate(161.8,57.8) rotate(-90)" font-size="6.0" font-weight="normal" text-anchor="start" stroke="#000" stroke-width="0.22">S 2p</text>
<text transform="translate(168.5,60.9) rotate(-90)" font-size="6.0" font-weight="normal" text-anchor="start" stroke="#000" stroke-width="0.22">In 4s</text>
<text transform="translate(174.7,61.8) rotate(-90)" font-size="6.0" font-weight="normal" text-anchor="start" stroke="#000" stroke-width="0.22">In 4p</text>
<text transform="translate(180.6,57.3) rotate(-90)" font-size="6.0" font-weight="normal" text-anchor="start" stroke="#000" stroke-width="0.22">In 4d</text>
<text x="24.8" y="61.0" font-size="6.5" font-weight="bold" stroke="#000" stroke-width="0.12">SV-In<tspan font-size="4.29" dy="3.0">2</tspan><tspan dy="-3.0">S</tspan><tspan font-size="4.29" dy="3.0">3</tspan><tspan dy="-3.0">-200</tspan></text>
<text x="25.9" y="110.9" font-size="6.5" font-weight="bold" stroke="#000" stroke-width="0.12">In<tspan font-size="4.29" dy="3.0">2</tspan><tspan dy="-3.0">S</tspan><tspan font-size="4.29" dy="3.0">3</tspan><tspan dy="-3.0"></tspan></text>
<text x="226.1" y="47.4" font-size="6.5" font-weight="bold" stroke="#000" stroke-width="0.12">SV-In<tspan font-size="4.29" dy="3.0">2</tspan><tspan dy="-3.0">S</tspan><tspan font-size="4.29" dy="3.0">3</tspan><tspan dy="-3.0">-200</tspan></text>
<text x="227.3" y="114.1" font-size="6.5" font-weight="bold" stroke="#000" stroke-width="0.12">In<tspan font-size="4.29" dy="3.0">2</tspan><tspan dy="-3.0">S</tspan><tspan font-size="4.29" dy="3.0">3</tspan><tspan dy="-3.0"></tspan></text>
<text x="25.7" y="206.0" font-size="6.5" font-weight="bold" stroke="#000" stroke-width="0.12">SV-In<tspan font-size="4.29" dy="3.0">2</tspan><tspan dy="-3.0">S</tspan><tspan font-size="4.29" dy="3.0">3</tspan><tspan dy="-3.0">-200</tspan></text>
<text x="27.2" y="268.3" font-size="6.5" font-weight="bold" stroke="#000" stroke-width="0.12">In<tspan font-size="4.29" dy="3.0">2</tspan><tspan dy="-3.0">S</tspan><tspan font-size="4.29" dy="3.0">3</tspan><tspan dy="-3.0"></tspan></text>
<text x="255.4" y="21.6" font-size="6.4" font-weight="bold">In 3d<tspan font-size="3.84" dy="2.5">5/2</tspan></text>
<text x="313.1" y="16.5" font-size="6.4" font-weight="bold">In 3d<tspan font-size="3.84" dy="2.5">3/2</tspan></text>
<text x="380.1" y="10.1" font-size="6.8" font-weight="bold" text-anchor="end" stroke="#000" stroke-width="0.15">In 3d</text>
<text x="181.3" y="166.0" font-size="6.5" font-weight="bold" text-anchor="end" stroke="#000" stroke-width="0.15">S 2p</text>
<text x="100.2" y="190.7" font-size="6.3" font-weight="bold">S 2p<tspan font-size="3.78" dy="2.5">1/2</tspan></text>
<text x="146.2" y="181.5" font-size="6.3" font-weight="bold">S 2p<tspan font-size="3.78" dy="2.5">3/2</tspan></text>
<line x1="316" y1="168.1" x2="328.3" y2="168.1" stroke="#1c1c1c" stroke-width="1.2"/>
<line x1="316" y1="178.1" x2="328.3" y2="178.1" stroke="#ff2451" stroke-width="1.2"/>
<line x1="316" y1="188.4" x2="328.3" y2="188.4" stroke="#26f026" stroke-width="1.2"/>
<text x="329" y="170.6" font-size="7.1" font-weight="bold" stroke="#000" stroke-width="0.12">In<tspan font-size="4.69" dy="3.0">2</tspan><tspan dy="-3.0">S</tspan><tspan font-size="4.69" dy="3.0">3</tspan><tspan dy="-3.0"></tspan></text>
<text x="329" y="180.6" font-size="7.1" font-weight="bold" stroke="#000" stroke-width="0.12">SV-In<tspan font-size="4.69" dy="3.0">2</tspan><tspan dy="-3.0">S</tspan><tspan font-size="4.69" dy="3.0">3</tspan><tspan dy="-3.0">-200</tspan></text>
<text x="329" y="190.7" font-size="7.1" font-weight="bold" stroke="#000" stroke-width="0.12">SV-In<tspan font-size="4.69" dy="3.0">2</tspan><tspan dy="-3.0">S</tspan><tspan font-size="4.69" dy="3.0">3</tspan><tspan dy="-3.0">-300</tspan></text>
</svg></body></html>
